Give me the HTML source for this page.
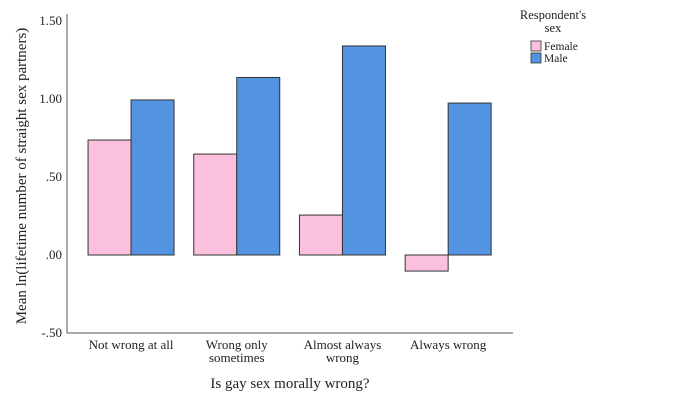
<!DOCTYPE html>
<html><head><meta charset="utf-8"><style>
body{margin:0;background:#fff}
svg{display:block;font-family:"Liberation Serif",serif}
</style></head><body>
<svg id="c" width="685" height="403"></svg>
<script>
const categories=[["Not wrong at all"],["Wrong only","sometimes"],["Almost always","wrong"],["Always wrong"]];
const female=[0.737,0.647,0.256,-0.103];
const male=[0.994,1.138,1.34,0.974];
const ticks=[1.5,1.0,0.5,0,-0.5];
const tickLabels=["1.50","1.00",".50",".00","-.50"];
const NS="http://www.w3.org/2000/svg";
const svg=document.getElementById('c');
const X0=67,X1=513,Y0=333;
const B0=78.2,B1=501;
const y=v=>255-v*156;
const bandW=(B1-B0)/categories.length;
const cx=i=>B0+bandW*(i+0.5);
function mk(t,a,txt){const e=document.createElementNS(NS,t);for(const k in a)e.setAttribute(k,a[k]);if(txt!==undefined)e.textContent=txt;svg.appendChild(e);return e;}
let e;
e=mk('line',{x1:X0,y1:14,x2:X0,y2:Y0,stroke:'#555','stroke-width':1});


e=mk('line',{x1:X0,y1:Y0,x2:X1,y2:Y0,stroke:'#555','stroke-width':1});


ticks.forEach((t,i)=>{
 e=mk('text',{x:62,y:y(t)+4,'text-anchor':'end','font-size':13,fill:'#222'},tickLabels[i]);
 
 
});
const bw=43;
categories.forEach((c,i)=>{
 const fv=female[i],mv=male[i];
 e=mk('rect',{x:cx(i)-bw,y:Math.min(y(fv),y(0)),width:bw,height:Math.abs(y(fv)-y(0)),fill:'#fcc0df',stroke:'#333','stroke-width':1});
 
 
 e=mk('rect',{x:cx(i),y:Math.min(y(mv),y(0)),width:bw,height:Math.abs(y(mv)-y(0)),fill:'#5294e2',stroke:'#333','stroke-width':1});
 
 
 c.forEach((l,j)=>{
  e=mk('text',{x:cx(i),y:349+j*13,'text-anchor':'middle','font-size':13,fill:'#222'},l);
  
  
 });
});
e=mk('text',{x:290,y:388,'text-anchor':'middle','font-size':15,fill:'#222'},'Is gay sex morally wrong?');


e=mk('text',{x:0,y:0,'text-anchor':'middle','font-size':15,fill:'#222',transform:'translate(26,176) rotate(-90)'},'Mean ln(lifetime number of straight sex partners)');


e=mk('text',{x:553,y:19,'text-anchor':'middle','font-size':12.5,fill:'#222'},"Respondent's");


e=mk('text',{x:553,y:32,'text-anchor':'middle','font-size':12.5,fill:'#222'},"sex");


[['Female','#fcc0df'],['Male','#5294e2']].forEach((s,i)=>{
 e=mk('rect',{x:531,y:41+i*12,width:10,height:10,fill:s[1],stroke:'#333','stroke-width':0.8});
 
 
 e=mk('text',{x:544,y:50+i*12,'font-size':11.5,fill:'#222'},s[0]);
 
 
});
</script>
</body></html>
